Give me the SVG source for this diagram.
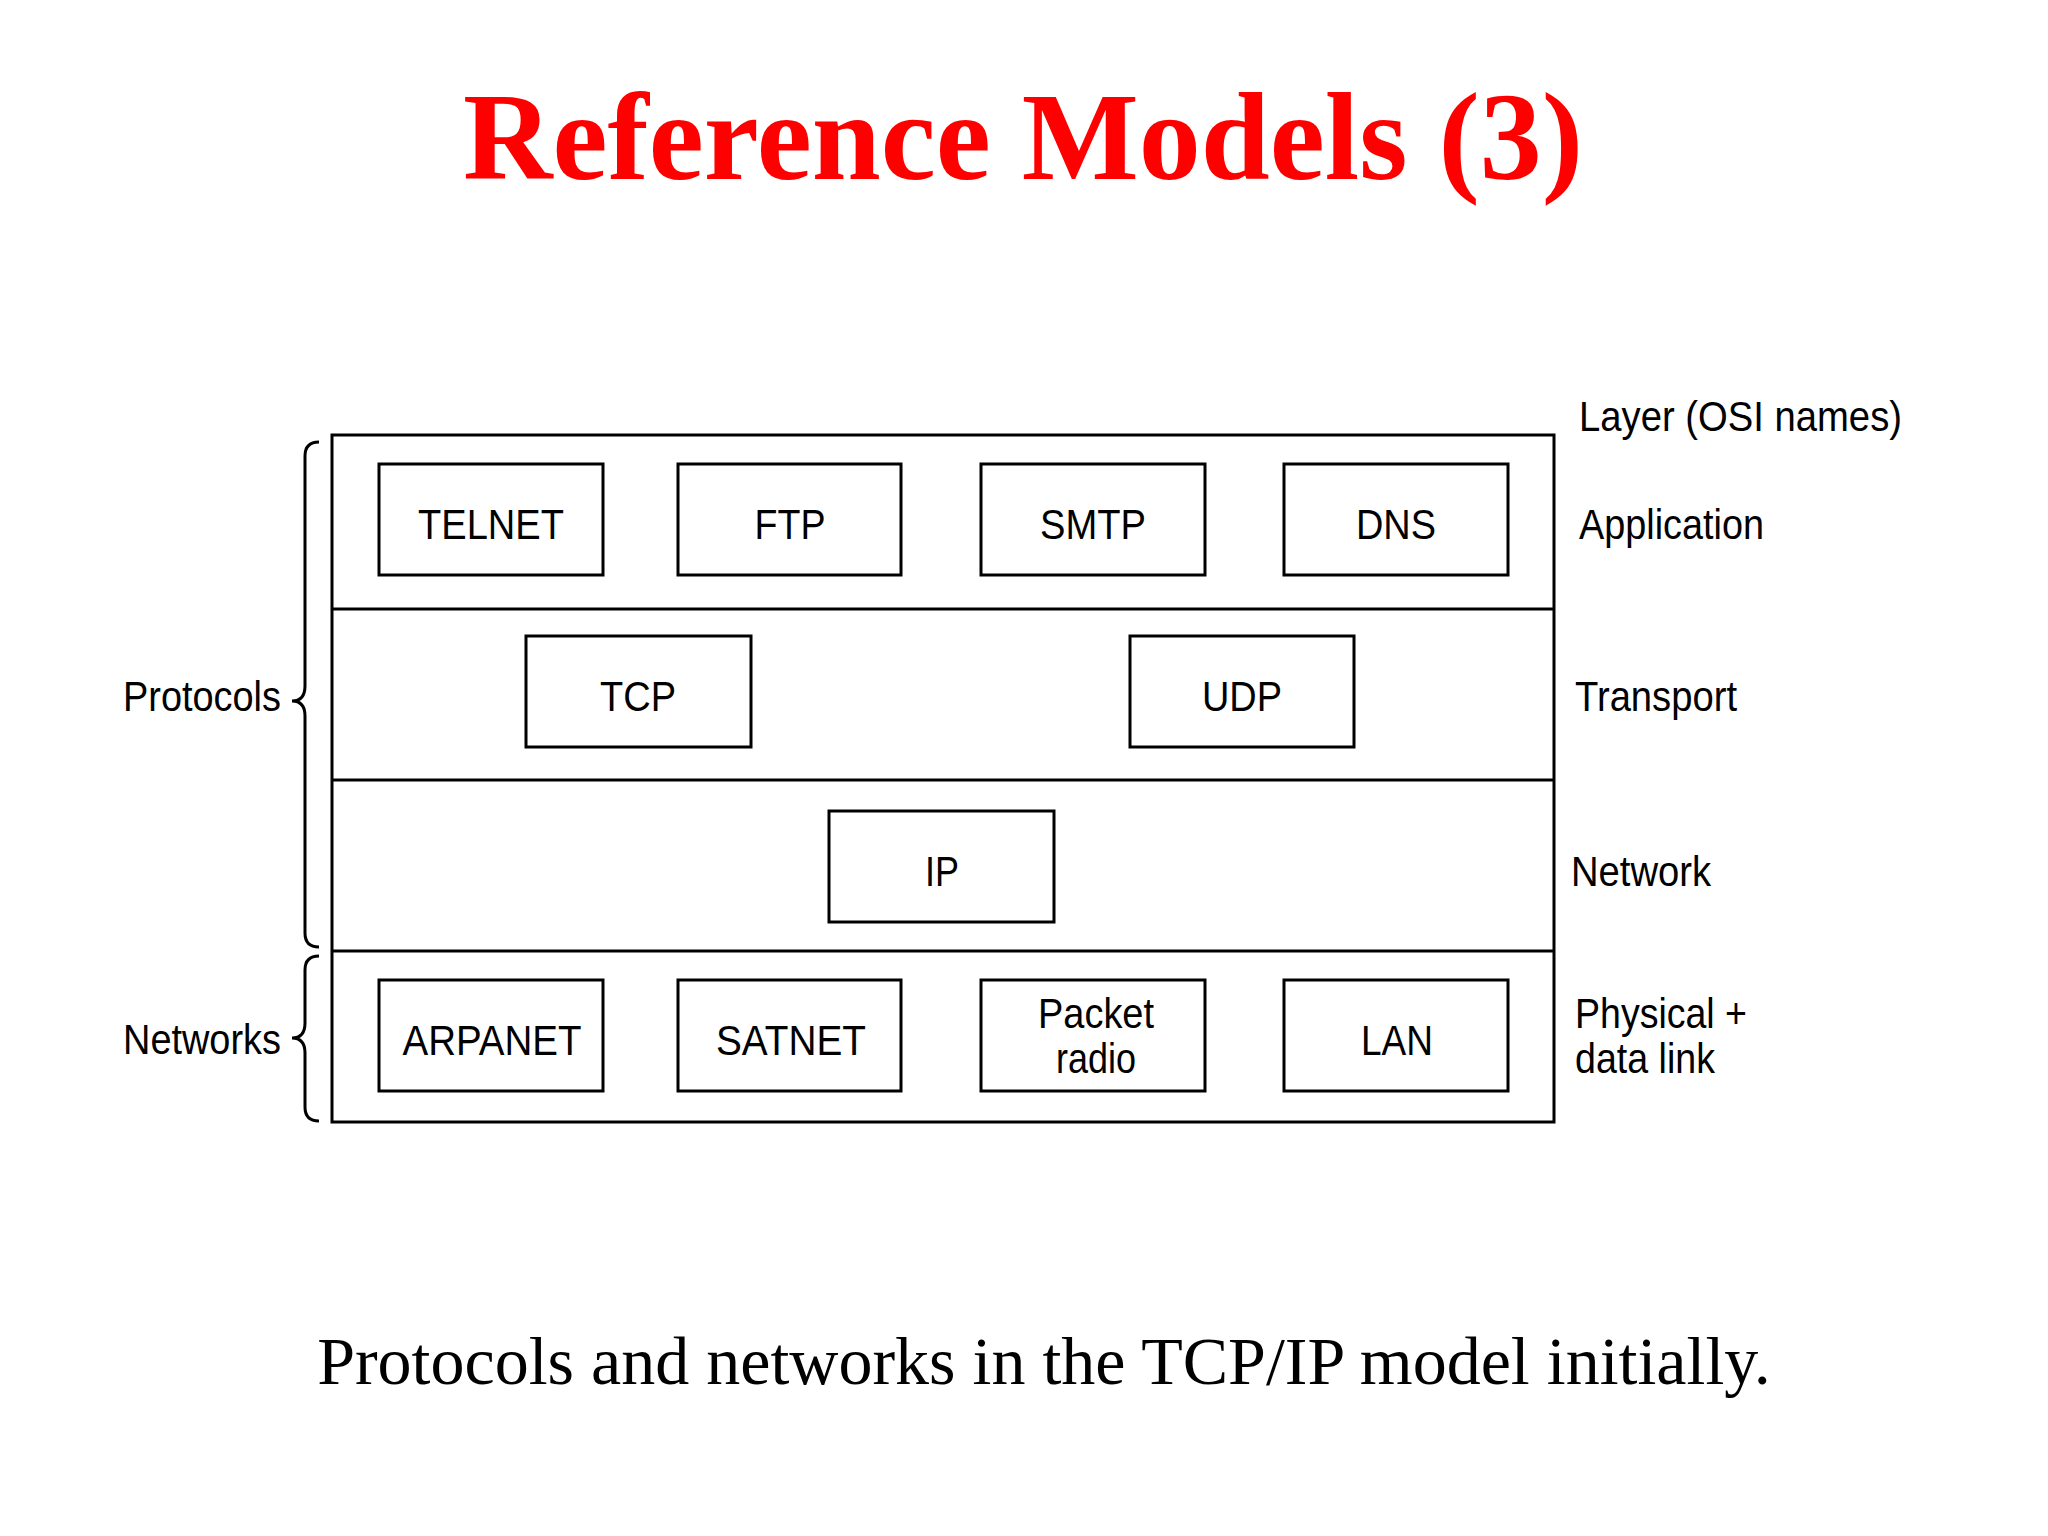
<svg xmlns="http://www.w3.org/2000/svg" width="2048" height="1536" viewBox="0 0 2048 1536">
<style>
.b{fill:#fff;stroke:#000;stroke-width:3}
.t{font-family:"Liberation Sans",Arial,sans-serif;font-size:42px;fill:#000}
.c{text-anchor:middle}
.br{fill:none;stroke:#000;stroke-width:3}
</style>
<rect width="2048" height="1536" fill="#fff"/>
<text x="1023" y="179" text-anchor="middle" font-family="Liberation Serif,'Times New Roman',serif" font-weight="bold" font-size="124" fill="#f00">Reference Models (3)</text>
<g id="frame">
<rect x="332" y="435" width="1222" height="687" class="b"/>
<line x1="332" y1="609" x2="1554" y2="609" stroke="#000" stroke-width="3"/>
<line x1="332" y1="780" x2="1554" y2="780" stroke="#000" stroke-width="3"/>
<line x1="332" y1="951" x2="1554" y2="951" stroke="#000" stroke-width="3"/>
</g>
<g id="telnet"><rect x="379" y="464" width="224" height="111" class="b"/><text x="491" y="539" class="t c" textLength="146" lengthAdjust="spacingAndGlyphs">TELNET</text></g>
<g id="ftp"><rect x="678" y="464" width="223" height="111" class="b"/><text x="790" y="539" class="t c" textLength="71" lengthAdjust="spacingAndGlyphs">FTP</text></g>
<g id="smtp"><rect x="981" y="464" width="224" height="111" class="b"/><text x="1093" y="539" class="t c" textLength="106" lengthAdjust="spacingAndGlyphs">SMTP</text></g>
<g id="dns"><rect x="1284" y="464" width="224" height="111" class="b"/><text x="1396" y="539" class="t c" textLength="80" lengthAdjust="spacingAndGlyphs">DNS</text></g>
<g id="tcp"><rect x="526" y="636" width="225" height="111" class="b"/><text x="638" y="711" class="t c" textLength="76" lengthAdjust="spacingAndGlyphs">TCP</text></g>
<g id="udp"><rect x="1130" y="636" width="224" height="111" class="b"/><text x="1242" y="711" class="t c" textLength="80" lengthAdjust="spacingAndGlyphs">UDP</text></g>
<g id="ip"><rect x="829" y="811" width="225" height="111" class="b"/><text x="942" y="886" class="t c" textLength="34" lengthAdjust="spacingAndGlyphs">IP</text></g>
<g id="arpanet"><rect x="379" y="980" width="224" height="111" class="b"/><text x="492" y="1055" class="t c" textLength="179" lengthAdjust="spacingAndGlyphs">ARPANET</text></g>
<g id="satnet"><rect x="678" y="980" width="223" height="111" class="b"/><text x="791" y="1055" class="t c" textLength="150" lengthAdjust="spacingAndGlyphs">SATNET</text></g>
<g id="packet"><rect x="981" y="980" width="224" height="111" class="b"/><text x="1096" y="1028" class="t c" textLength="116" lengthAdjust="spacingAndGlyphs">Packet</text><text x="1096" y="1073" class="t c" textLength="80" lengthAdjust="spacingAndGlyphs">radio</text></g>
<g id="lan"><rect x="1284" y="980" width="224" height="111" class="b"/><text x="1397" y="1055" class="t c" textLength="72" lengthAdjust="spacingAndGlyphs">LAN</text></g>
<g id="labels">
<text x="1579" y="431" class="t" textLength="323" lengthAdjust="spacingAndGlyphs">Layer (OSI names)</text>
<text x="1579" y="539" class="t" textLength="185" lengthAdjust="spacingAndGlyphs">Application</text>
<text x="1575" y="711" class="t" textLength="162" lengthAdjust="spacingAndGlyphs">Transport</text>
<text x="1571" y="886" class="t" textLength="140" lengthAdjust="spacingAndGlyphs">Network</text>
<text x="1575" y="1028" class="t" textLength="172" lengthAdjust="spacingAndGlyphs">Physical +</text>
<text x="1575" y="1073" class="t" textLength="140" lengthAdjust="spacingAndGlyphs">data link</text>
<text x="123" y="711" class="t" textLength="158" lengthAdjust="spacingAndGlyphs">Protocols</text>
<text x="123" y="1054" class="t" textLength="158" lengthAdjust="spacingAndGlyphs">Networks</text>
</g>
<g id="braces">
<path class="br" d="M319 442 Q305 442 305 456 L305 686 Q305 701 292 701 Q305 701 305 716 L305 933 Q305 947 319 947"/>
<path class="br" d="M319 956 Q305 956 305 970 L305 1023 Q305 1038 292 1038 Q305 1038 305 1053 L305 1107 Q305 1121 319 1121"/>
</g>
<text x="1044" y="1384" text-anchor="middle" font-family="Liberation Serif,'Times New Roman',serif" font-size="68" fill="#000">Protocols and networks in the TCP/IP model initially.</text>
</svg>
